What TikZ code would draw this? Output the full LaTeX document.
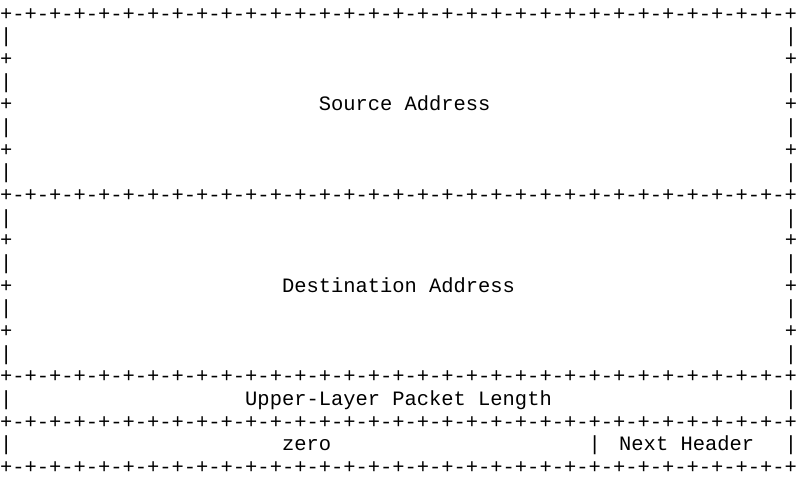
\documentclass[tikz,border=0pt]{standalone}
\usepackage{fontspec}
\setmonofont{Liberation Mono}
\begin{document}
\begin{tikzpicture}[x=6pt,y=-11.09pt,
  ch/.style={inner sep=0pt,outer sep=0pt,anchor=base west,font=\ttfamily\fontsize{10}{10}\selectfont}]
\useasboundingbox (0,0) rectangle (65,21.22);
\def\by{0.893}
% border rows
\foreach \r in {0,8,16,18,20}{
  \node[ch] (b\r) at (0,\r+\by) {+-+-+-+-+-+-+-+-+-+-+-+-+-+-+-+-+-+-+-+-+-+-+-+-+-+-+-+-+-+-+-+-+};
}
% pipe rows
\foreach \r in {1,3,5,7,9,11,13,15,17,19}{
  \node[ch] (l\r) at (0,\r+\by) {|};
  \node[ch] (r\r) at (64,\r+\by) {|};
}
% plus rows
\foreach \r in {2,4,6,10,12,14}{
  \node[ch] (l\r) at (0,\r+\by) {+};
  \node[ch] (r\r) at (64,\r+\by) {+};
}
\node[ch] (src) at (26,4+\by) {Source Address};
\node[ch] (dst) at (23,12+\by) {Destination Address};
\node[ch] (len) at (20,17+\by) {Upper-Layer Packet Length};
\node[ch] (zero) at (23,19+\by) {zero};
\node[ch] (mid) at (48,19+\by) {|};
\node[ch] (nh) at (50.5,19+\by) {Next Header};
\end{tikzpicture}
\end{document}
